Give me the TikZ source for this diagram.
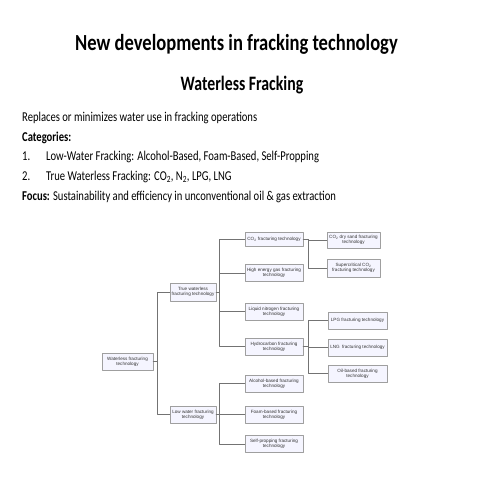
\documentclass[tikz,border=0pt]{standalone}
\usepackage{fontspec}
\setmainfont{Carlito}
\newfontfamily\boxfont{Liberation Sans}
\usetikzlibrary{shadows}

\newcommand{\narrow}[2]{\scalebox{#1}[1]{#2}}

\tikzset{
  box/.style={draw=gray!75, fill=blue!4, align=center, inner sep=0.5pt,
    minimum height=17, text=black!80, font=\boxfont\fontsize{4.6}{5.2}\selectfont,
    drop shadow={shadow xshift=0.8pt, shadow yshift=-0.8pt, fill=gray!35}},
  link/.style={draw=gray!90!black, line width=0.6pt},
  bodyline/.style={anchor=base west, inner sep=0pt, font=\fontsize{13.5}{16}\selectfont}
}

\begin{document}
\begin{tikzpicture}[line cap=round,line join=round,x=1pt,y=-1pt]
\useasboundingbox (0,0) rectangle (480,480);

\node[anchor=base, inner sep=0pt, font=\fontsize{23}{27}\bfseries] (title) at (236.5,50.7) {\narrow{0.806}{New developments in fracking technology}};
\node[anchor=base, inner sep=0pt, font=\fontsize{20.5}{24}\bfseries] (subtitle) at (242,90.7) {\narrow{0.77}{Waterless Fracking}};

\node[bodyline] (intro) at (22,121.7) {\narrow{0.785}{Replaces or minimizes water use in fracking operations}};
\node[bodyline] (cat) at (22,141) {\narrow{0.785}{\textbf{Categories:}}};
\node[bodyline] (n1) at (22,160.7) {\narrow{0.785}{1.}};
\node[bodyline] (c1) at (46,160.7) {\narrow{0.785}{Low-Water Fracking: Alcohol-Based, Foam-Based, Self-Propping}};
\node[bodyline] (n2) at (22,180.7) {\narrow{0.785}{2.}};
\node[bodyline] (c2) at (46,180.7) {\narrow{0.785}{True Waterless Fracking: CO\textsubscript{2}, N\textsubscript{2}, LPG, LNG}};
\node[bodyline] (focus) at (22,200) {\narrow{0.785}{\textbf{Focus:} Sustainability and efficiency in unconventional oil \& gas extraction}};

% tree
\node[box, minimum width=51] (root) at (127.5,361.5) {Waterless fracturing\\technology};
\node[box, minimum width=46, minimum height=18] (tw) at (193,292) {True waterless\\fracturing technology};
\node[box, minimum width=46] (lw) at (193,414.5) {Low water fracturing\\technology};

\node[box, minimum width=58, minimum height=14] (co2) at (274,239) {CO\textsubscript{2} fracturing technology};
\node[box, minimum width=58] (heg) at (274,273) {High energy gas fracturing\\technology};
\node[box, minimum width=58] (ln) at (274,311.5) {Liquid nitrogen fracturing\\technology};
\node[box, minimum width=58] (hc) at (274,346.5) {Hydrocarbon fracturing\\technology};
\node[box, minimum width=58] (ab) at (274,383.5) {Alcohol-based fracturing\\technology};
\node[box, minimum width=58] (fb) at (274,414.5) {Foam-based fracturing\\technology};
\node[box, minimum width=58] (sp) at (274,444) {Self-propping fracturing\\technology};

\node[box, minimum width=53, minimum height=16] (dry) at (353.5,240) {CO\textsubscript{2} dry sand fracturing\\technology};
\node[box, minimum width=53, minimum height=18] (sc) at (353.5,268) {Supercritical CO\textsubscript{2}\\fracturing technology};
\node[box, minimum width=59] (lpg) at (357.5,320.5) {LPG fracturing technology};
\node[box, minimum width=59] (lng) at (357.5,347.5) {LNG\enspace fracturing technology};
\node[box, minimum width=59] (oil) at (357.5,373.5) {Oil-based fracturing\\technology};

\foreach \c in {tw,lw}
  \draw[link] (root.east) -- ++(4,0) |- (\c.west);
\foreach \c in {co2,heg,ln,hc}
  \draw[link] (tw.east) -- ++(3,0) |- (\c.west);
\foreach \c in {ab,fb,sp}
  \draw[link] (lw.east) -- ++(3,0) |- (\c.west);
\foreach \c in {dry,sc}
  \draw[link] (co2.east) -- ++(5,0) |- (\c.west);
\foreach \c in {lpg,lng,oil}
  \draw[link] (hc.east) -- ++(5,0) |- (\c.west);

\end{tikzpicture}
\end{document}
